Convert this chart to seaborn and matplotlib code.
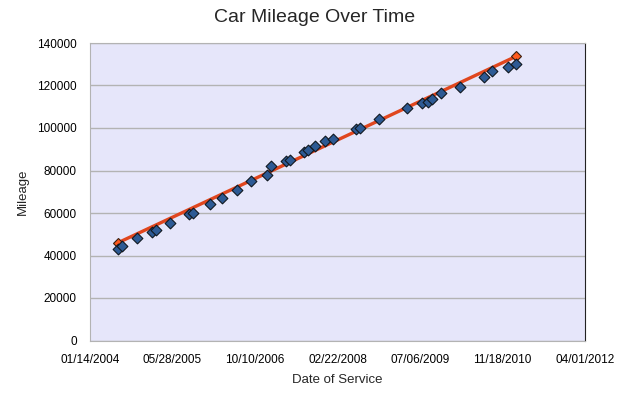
import numpy as np
import pandas as pd
import matplotlib
matplotlib.use("Agg")
import matplotlib.pyplot as plt
import matplotlib.dates as mdates
import seaborn as sns

# service log
service_dates = [
    "2004-07-04", "2004-07-28", "2004-10-27", "2005-01-22", "2005-02-14",
    "2005-05-13", "2005-09-06", "2005-09-28", "2006-01-12", "2006-03-24",
    "2006-06-23", "2006-09-18", "2006-12-23", "2007-01-12", "2007-04-16",
    "2007-05-09", "2007-08-03", "2007-08-27", "2007-10-07", "2007-12-10",
    "2008-01-24", "2008-06-13", "2008-07-07", "2008-10-28", "2009-04-16",
    "2009-07-20", "2009-08-25", "2009-09-15", "2009-11-08", "2010-03-07",
    "2010-07-27", "2010-09-17", "2010-12-21", "2011-02-10",
]
mileage = [
    42900, 44500, 48100, 51200, 51900,
    55100, 59500, 60200, 64100, 66900,
    70600, 75100, 77800, 82100, 84300,
    84900, 88600, 89800, 91700, 93900,
    95000, 99500, 100100, 104300, 109300,
    111700, 112000, 113500, 116600, 119400,
    124000, 126700, 128700, 130100,
]

# trend line end points
trend_dates = ["2004-06-29", "2011-02-08"]
trend_miles = [45900, 133700]

y_ticks = [0, 20000, 40000, 60000, 80000, 100000, 120000, 140000]
x_start = "2004-01-14"
x_end = "2012-04-01"

df = pd.DataFrame({"date": pd.to_datetime(service_dates), "mileage": mileage})
trend = pd.DataFrame({"date": pd.to_datetime(trend_dates), "mileage": trend_miles})

sns.set_style("white")
plt.rcParams["font.family"] = ["Liberation Sans", "DejaVu Sans"]

fig = plt.figure(figsize=(6.3, 4.2), dpi=100)
ax = fig.add_axes([90 / 630, 1 - 340.5 / 420, 495 / 630, 297.5 / 420])
ax.set_facecolor("#e6e6fa")

sns.lineplot(data=trend, x="date", y="mileage", ax=ax, color="#e0461e",
             linewidth=2.4, marker="D", markersize=5.5,
             markerfacecolor="#ff5a1e", markeredgecolor="#3a2010",
             markeredgewidth=0.8, zorder=2)
sns.scatterplot(data=df, x="date", y="mileage", ax=ax, marker="D", s=30,
                color="#2d5a94", edgecolor="#101820", linewidth=0.8,
                zorder=3)

ax.set_xlim(pd.Timestamp(x_start), pd.Timestamp(x_end))
ax.set_ylim(0, 140000)
ax.set_yticks(y_ticks)
x_ticks = pd.date_range(x_start, x_end, freq="500D")
ax.set_xticks(x_ticks)
ax.xaxis.set_major_formatter(mdates.DateFormatter("%m/%d/%Y"))

ax.grid(axis="y", color="#b3b3b3", linewidth=1)
ax.set_axisbelow(True)
for side in ["left", "bottom", "top"]:
    ax.spines[side].set_color("#b3b3b3")
ax.spines["right"].set_color("#222222")
ax.tick_params(axis="both", colors="#b3b3b3", length=6, width=1,
               labelcolor="black", labelsize=8.5)

fig.text(0.5, 1 - 18 / 420, "Car Mileage Over Time", fontsize=14,
         ha="center", va="center")
ax.set_xlabel("Date of Service", fontsize=9.5, labelpad=6)
ax.set_ylabel("Mileage", fontsize=9.5, labelpad=6)

fig.savefig("out.png", dpi=100)
